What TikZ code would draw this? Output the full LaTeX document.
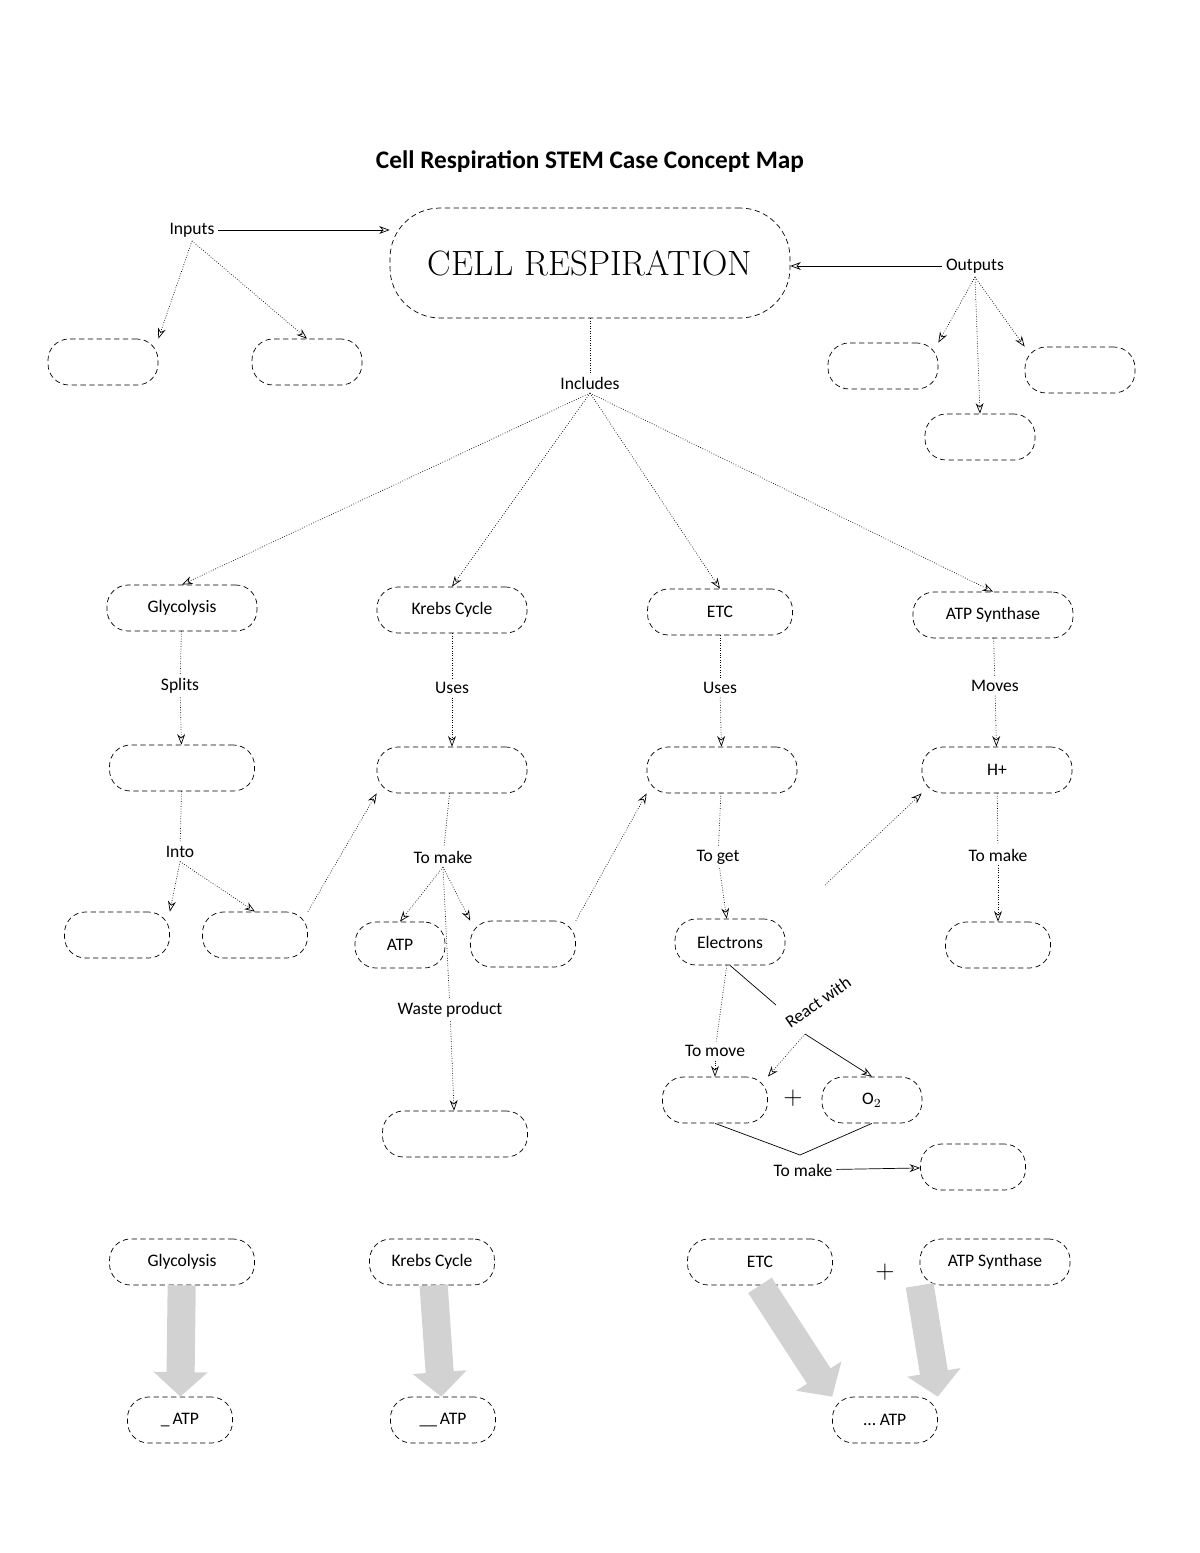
\documentclass[tikz,border=0pt]{standalone}
\usepackage{fontspec}
\setsansfont{Carlito}
\usetikzlibrary{arrows.meta}
\begin{document}
\begin{tikzpicture}[x=0.02cm,y=-0.02cm,font=\sffamily]
    \tikzstyle{pill}=[draw, densely dashed, rounded corners=0.42cm, minimum height=0.92cm]
    \tikzstyle{lbl}=[inner sep=2pt]
    \tikzstyle{arr}=[-{Stealth[open,length=6pt]}, densely dotted]
    \tikzstyle{fat}=[line width=16pt, draw=gray!35, -{Triangle[length=14pt,width=30pt]}]
    \useasboundingbox (0,0) rectangle (1200,1553);
    \node (title) at (590,162) {\bfseries\Large Cell Respiration STEM Case Concept Map};
    % top
    \node[pill, rounded corners=1cm, minimum width=8cm, minimum height=2.2cm] (cr) at (590,263) {\fontsize{20}{24}\rmfamily CELL RESPIRATION};
    \node[lbl] (inputs) at (192,230) {Inputs};
    \node[lbl] (outputs) at (975,266) {Outputs};
    \node[pill, minimum width=2.2cm] (in1) at (103,362) {};
    \node[pill, minimum width=2.2cm] (in2) at (307,362) {};
    \node[pill, minimum width=2.2cm] (out1) at (883,366) {};
    \node[pill, minimum width=2.2cm] (out2) at (1080,370) {};
    \node[pill, minimum width=2.2cm] (out3) at (980,437) {};
    \node[lbl] (includes) at (590,383) {Includes};
    \draw[-{Stealth[open,length=6pt]}] (inputs) -- (cr.west |- inputs);
    \draw[-{Stealth[open,length=6pt]}] (outputs) -- (cr.east |- outputs);
    \draw[arr] (inputs.south) -- (in1.north east);
    \draw[arr] (inputs.south) -- (in2.north);
    \draw[arr] (outputs.south) -- (out1.north east);
    \draw[arr] (outputs.south) -- (out2.north west);
    \draw[arr] (outputs.south) -- (out3.north);
    \draw[densely dotted] (cr) -- (includes);
    % processes
    \node[pill, minimum width=3cm] (gly) at (182,608) {Glycolysis};
    \node[pill, minimum width=3cm] (krebs) at (452,610) {Krebs Cycle};
    \node[pill, minimum width=2.9cm] (etc) at (720,612) {ETC};
    \node[pill, minimum width=3.2cm] (atps) at (993,615) {ATP Synthase};
    \foreach \p in {gly,krebs,etc,atps}
        \draw[arr] (includes.south) -- (\p.north);
    \node[lbl] (splits) at (180,686) {Splits};
    \node[lbl] (uses1) at (452,688) {Uses};
    \node[lbl] (uses2) at (720,688) {Uses};
    \node[lbl] (moves) at (995,686) {Moves};
    \node[pill, minimum width=2.9cm] (g2) at (182,768) {};
    \node[pill, minimum width=3cm] (k2) at (452,770) {};
    \node[pill, minimum width=3cm] (e2) at (722,770) {};
    \node[pill, minimum width=3cm] (h) at (997,770) {H+};
    \foreach \a/\l/\b in {gly/splits/g2,krebs/uses1/k2,etc/uses2/e2,atps/moves/h} {
        \draw[densely dotted] (\a) -- (\l);
        \draw[arr] (\l) -- (\b);
    }
    \node[lbl] (into) at (180,852) {Into};
    \node[lbl] (tomake1) at (443,857) {To make};
    \node[lbl] (toget) at (718,857) {To get};
    \node[lbl] (tomake2) at (998,855) {To make};
    \node[pill, minimum width=2.1cm] (g3) at (117,935) {};
    \node[pill, minimum width=2.1cm] (g4) at (255,935) {};
    \node[pill, minimum width=1.8cm] (atp) at (400,945) {ATP};
    \node[pill, minimum width=2.1cm] (k4) at (523,944) {};
    \node[pill, minimum width=2.2cm] (el) at (730,942) {Electrons};
    \node[pill, minimum width=2.1cm] (h2) at (998,945) {};
    \draw[densely dotted] (g2) -- (into);
    \draw[densely dotted] (k2) -- (tomake1);
    \draw[densely dotted] (e2) -- (toget);
    \draw[densely dotted] (h) -- (tomake2);
    \draw[arr] (into.south) -- (g3.north east);
    \draw[arr] (into.south) -- (g4.north);
    \draw[arr] (g4.north east) -- (k2.south west);
    \draw[arr] (tomake1.south) -- (atp.north);
    \draw[arr] (tomake1.south) -- (k4.north west);
    \draw[arr] (k4.north east) -- (e2.south west);
    \draw[arr] (toget) -- (el);
    \coordinate (free) at (825,885);
    \draw[arr] (free) -- (h.south west);
    \draw[arr] (tomake2) -- (h2);
    % waste
    \node[lbl] (waste) at (450,1010) {Waste product};
    \node[pill, minimum width=2.9cm] (wbox) at (455,1134) {};
    \draw[densely dotted] (tomake1.south) -- (waste);
    \draw[arr] (waste) -- (wbox);
    % electrons
    \node[lbl] (tomove) at (715,1051) {To move};
    \node[lbl, rotate=35] (react) at (818,1002) {React with};
    \coordinate (rend) at (776,1005);
    \coordinate (rtip) at (805,1034);
    \node[pill, minimum width=2.1cm] (m1) at (715,1100) {};
    \node[pill, minimum width=2cm] (o2) at (872,1100) {O$_2$};
    \node (plus1) at (793,1098) {\Large$+$};
    \draw[densely dotted] (el) -- (tomove);
    \draw[arr] (tomove) -- (m1);
    \draw (el.south) -- (rend);
    \draw[arr] (rtip) -- (m1.north east);
    \draw[-{Stealth[open,length=6pt]}] (rtip) -- (o2.north);
    \coordinate (vtip) at (800,1155);
    \node[lbl] (tomake3) at (803,1170) {To make};
    \node[pill, minimum width=2.1cm] (final) at (973,1167) {};
    \draw (m1.south) -- (vtip) -- (o2.south);
    \draw[-{Stealth[open,length=6pt]}] (tomake3) -- (final);
    % ATP totals
    \node[pill, minimum width=2.9cm] (bg) at (182,1262) {Glycolysis};
    \node[pill, minimum width=2.5cm] (bk) at (432,1262) {Krebs Cycle};
    \node[pill, minimum width=2.9cm] (betc) at (760,1262) {ETC};
    \node[pill, minimum width=3cm] (batps) at (995,1262) {ATP Synthase};
    \node (plus2) at (885,1272) {\Large$+$};
    \node[pill, minimum width=2.1cm] (ba1) at (180,1420) {\_\,ATP};
    \node[pill, minimum width=2.1cm] (ba2) at (443,1420) {\_\_\,ATP};
    \node[pill, minimum width=2.1cm] (ba3) at (885,1420) {\dots\ ATP};
    \draw[fat] (bg) -- (ba1);
    \draw[fat] (bk) -- (ba2);
    \draw[fat] (betc.south) -- (ba3.north west);
    \draw[fat] (batps.south west) -- (ba3.north east);
\end{tikzpicture}
\end{document}
